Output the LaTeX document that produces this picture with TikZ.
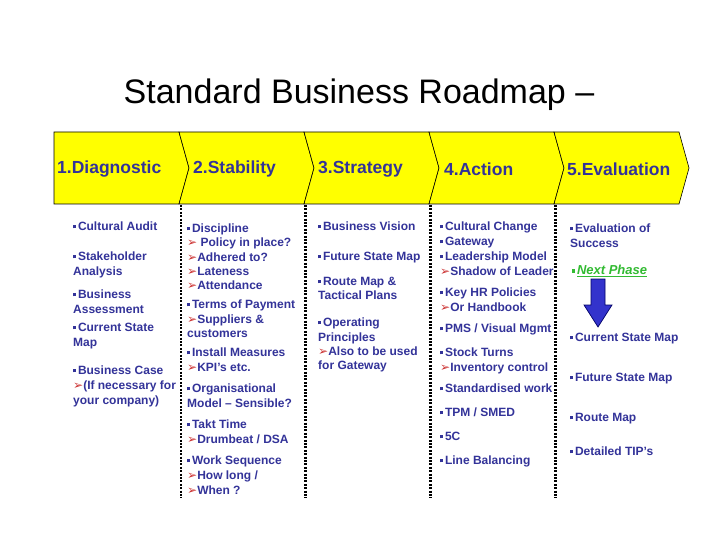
\documentclass[tikz,border=0pt]{standalone}
\usepackage{fontspec}
\setmainfont{Liberation Sans}
\newfontfamily\dejavu{DejaVu Sans}
\definecolor{navy}{HTML}{333399}
\definecolor{arrred}{HTML}{CC3333}
\definecolor{npgreen}{HTML}{33BB33}
\definecolor{chev}{HTML}{FFFF00}
\definecolor{bluearrow}{HTML}{3333CC}
\definecolor{bluedark}{HTML}{000066}
\newcommand\bul{\raisebox{2pt}{\rule{3.2pt}{3.2pt}}\hspace{1.6pt}}
\newcommand\arr{{\dejavu\fontsize{12}{12}\selectfont\color{arrred}➢}}
\tikzset{
  txt/.style={anchor=base west, inner sep=0pt, text=navy, font=\fontsize{12}{14}\selectfont\bfseries},
  head/.style={anchor=west, inner sep=0pt, text=navy, font=\fontsize{17.5}{20}\selectfont\bfseries},
  chevshape/.style={fill=chev, draw=black, line width=0.6pt, line join=miter},
  sep/.style={line width=2.6pt, dash pattern=on 2pt off 1.4pt},
}
\begin{document}
\begin{tikzpicture}[x=1pt,y=-1pt]
\useasboundingbox (0,0) rectangle (720,540);
\fill[white] (0,0) rectangle (720,540);
% title
\node[inner sep=0pt, font=\fontsize{34}{38}\selectfont] (title) at (359,95) {Standard Business Roadmap –};
% chevrons
\path[chevshape] (54,132) -- (179,132) -- (189,168) -- (179,204) -- (54,204) -- cycle;
\path[chevshape] (179,132) -- (304,132) -- (314,168) -- (304,204) -- (179,204) -- (189,168) -- cycle;
\path[chevshape] (304,132) -- (429,132) -- (439,168) -- (429,204) -- (304,204) -- (314,168) -- cycle;
\path[chevshape] (429,132) -- (554,132) -- (564,168) -- (554,204) -- (429,204) -- (439,168) -- cycle;
\path[chevshape] (554,132) -- (679,132) -- (689,168) -- (679,204) -- (554,204) -- (564,168) -- cycle;
\node[head] (h1) at (57,169) {1.Diagnostic};
\node[head] (h2) at (193,169) {2.Stability};
\node[head] (h3) at (318,169) {3.Strategy};
\node[head] (h4) at (444,169) {4.Action};
\node[head] (h5) at (567,169) {5.Evaluation};
% separators
\coordinate (s1t) at (181,205); \coordinate (s1b) at (181,498);
\coordinate (s2t) at (305.5,205); \coordinate (s2b) at (305.5,498);
\coordinate (s3t) at (430.5,205); \coordinate (s3b) at (430.5,498);
\coordinate (s4t) at (555.5,205); \coordinate (s4b) at (555.5,498);
\draw[sep] (s1t) -- (s1b);
\draw[sep] (s2t) -- (s2b);
\draw[sep] (s3t) -- (s3b);
\draw[sep] (s4t) -- (s4b);
% column 1
\node[txt] (a1) at (73,230.3) {\bul Cultural Audit};
\node[txt] (a2) at (73,260.3) {\bul Stakeholder};
\node[txt] (a3) at (73,275.3) {Analysis};
\node[txt] (a4) at (73,298.3) {\bul Business};
\node[txt] (a5) at (73,313.3) {Assessment};
\node[txt] (a6) at (73,331.3) {\bul Current State};
\node[txt] (a7) at (73,346.3) {Map};
\node[txt] (a8) at (73,374.3) {\bul Business Case};
\node[txt] (a9) at (73,389.3) {\arr(If necessary for};
\node[txt] (a10) at (73,404.3) {your company)};
% column 2
\node[txt] (b1) at (187,232.3) {\bul Discipline};
\node[txt] (b2) at (187,246.3) {\arr\ Policy in place?};
\node[txt] (b3) at (187,261.3) {\arr Adhered to?};
\node[txt] (b4) at (187,275.3) {\arr Lateness};
\node[txt] (b5) at (187,289.3) {\arr Attendance};
\node[txt] (b6) at (187,308.3) {\bul Terms of Payment};
\node[txt] (b7) at (187,323.3) {\arr Suppliers \&};
\node[txt] (b8) at (187,337.3) {customers};
\node[txt] (b9) at (187,356.3) {\bul Install Measures};
\node[txt] (b10) at (187,371.3) {\arr KPI’s etc.};
\node[txt] (b11) at (187,392.3) {\bul Organisational};
\node[txt] (b12) at (187,407.3) {Model – Sensible?};
\node[txt] (b13) at (187,428.3) {\bul Takt Time};
\node[txt] (b14) at (187,443.3) {\arr Drumbeat / DSA};
\node[txt] (b15) at (187,464.3) {\bul Work Sequence};
\node[txt] (b16) at (187,479.3) {\arr How long /};
\node[txt] (b17) at (187,494.3) {\arr When ?};
% column 3
\node[txt] (c1) at (318,230.3) {\bul Business Vision};
\node[txt] (c2) at (318,260.3) {\bul Future State Map};
\node[txt] (c3) at (318,285.3) {\bul Route Map \&};
\node[txt] (c4) at (318,299.3) {Tactical Plans};
\node[txt] (c5) at (318,326.3) {\bul Operating};
\node[txt] (c6) at (318,341.3) {Principles};
\node[txt] (c7) at (318,355.3) {\arr Also to be used};
\node[txt] (c8) at (318,369.3) {for Gateway};
% column 4
\node[txt] (d1) at (440,230.3) {\bul Cultural Change};
\node[txt] (d2) at (440,245.3) {\bul Gateway};
\node[txt] (d3) at (440,260.3) {\bul Leadership Model};
\node[txt] (d4) at (440,275.3) {\arr Shadow of Leader};
\node[txt] (d5) at (440,296.3) {\bul Key HR Policies};
\node[txt] (d6) at (440,311.3) {\arr Or Handbook};
\node[txt] (d7) at (440,332.3) {\bul PMS / Visual Mgmt};
\node[txt] (d8) at (440,356.3) {\bul Stock Turns};
\node[txt] (d9) at (440,371.3) {\arr Inventory control};
\node[txt] (d10) at (440,392.3) {\bul Standardised work};
\node[txt] (d11) at (440,416.3) {\bul TPM / SMED};
\node[txt] (d12) at (440,440.3) {\bul 5C};
\node[txt] (d13) at (440,464.3) {\bul Line Balancing};
% column 5
\node[txt] (e1) at (570,232.3) {\bul Evaluation of};
\node[txt] (e2) at (570,247.3) {Success};
\node[txt, text=npgreen, font=\fontsize{13}{15}\selectfont\bfseries\itshape] (e3) at (572,274.5) {\bul\underline{Next Phase}};
\node[txt] (e4) at (570,341.3) {\bul Current State Map};
\node[txt] (e5) at (570,381.3) {\bul Future State Map};
\node[txt] (e6) at (570,421.3) {\bul Route Map};
\node[txt] (e7) at (570,455.3) {\bul Detailed TIP’s};
% next phase arrow
\draw[fill=bluearrow, draw=bluedark, line width=0.7pt, line join=miter]
  (591,279) -- (605,279) -- (605,305) -- (612,305) -- (598,327) -- (584,305) -- (591,305) -- cycle;
\end{tikzpicture}
\end{document}
